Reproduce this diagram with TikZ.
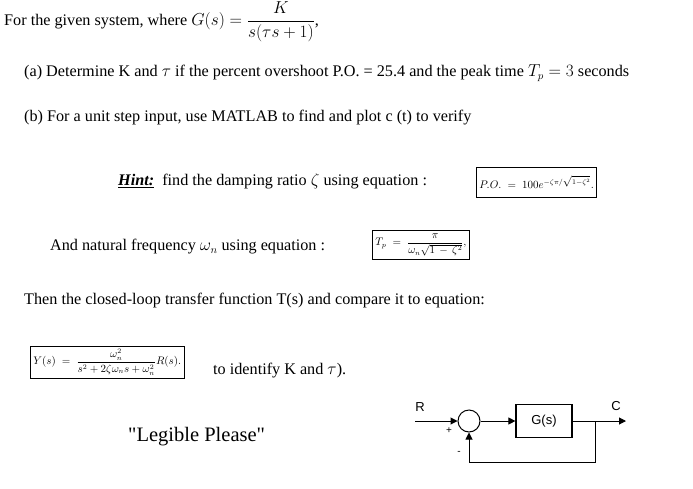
\documentclass[tikz,border=0pt]{standalone}
\usepackage{amsmath}
\usepackage{fontspec}
\setmainfont{Liberation Serif}
\newfontfamily\plainserif{Liberation Serif}
\newfontfamily\arial{Liberation Sans}
\usetikzlibrary{arrows.meta}
\begin{document}
\begin{tikzpicture}[x=1pt,y=-1pt,
 txt/.style={anchor=west,inner sep=0pt,font=\fontsize{16.2}{18}\selectfont},
 eqbox/.style={draw,thick,inner sep=3pt,font=\fontsize{10.5}{12}\selectfont},
 blk/.style={draw,line width=1.2pt,font=\arial\fontsize{13}{15}\selectfont},
 sig/.style={line width=1pt},
 arr/.style={sig,-{Triangle[length=7pt,width=7pt]}}]
\useasboundingbox (0,0) rectangle (693,488);
\node[txt] (l1) at (4,22) {For the given system, where $G(s)=\dfrac{K}{s(\tau s+1)}$,};
\node[txt] (l2) at (24,73) {(a) Determine K and $\tau$ if the percent overshoot P.O.\ = 25.4 and the peak time $T_p=3$ seconds};
\node[txt] (l3) at (24,118) {(b) For a unit step input, use MATLAB to find and plot c (t) to verify};
\node[txt] (hint) at (118,181) {\textbf{\textit{\underline{Hint:}}}\ \ find the damping ratio $\zeta$ using equation :};
\node[eqbox,anchor=west,minimum height=30pt] (e1) at (476,182) {$P.O.\;=\;100e^{-\zeta\pi/\sqrt{1-\zeta^2}}.$};
\node[txt] (nat) at (50,247) {And natural frequency $\omega_n$ using equation :};
\node[eqbox,anchor=west] (e2) at (372,245) {$T_p\;=\;\dfrac{\pi}{\omega_n\sqrt{1\,-\,\zeta^2}},$};
\node[txt] (then) at (24,301) {Then the closed-loop transfer function T(s) and compare it to equation:};
\node[eqbox,anchor=west] (e3) at (30,362) {$Y(s)\;=\;\dfrac{\omega_n^2}{s^2+2\zeta\omega_n s+\omega_n^2}R(s).$};
\node[txt] (ident) at (213,371) {to identify K and $\tau$).};
\node[txt,font=\plainserif\fontsize{20.5}{23}\selectfont] (leg) at (128,437) {"Legible Please"};
% block diagram
\coordinate (rin) at (415,421);
\node[draw,sig,circle,minimum size=22pt,inner sep=0pt] (sum) at (469,421) {};
\node[blk,minimum width=56pt,minimum height=33pt] (g) at (544,421) {G(s)};
\coordinate (br) at (595,421);
\coordinate (out) at (626,421);
\coordinate (fb1) at (595,462);
\coordinate (fb2) at (469,462);
\node[font=\arial\fontsize{13}{15}\selectfont] (R) at (420,407) {R};
\node[font=\arial\fontsize{13}{15}\selectfont] (C) at (616,406) {C};
\node[font=\arial\fontsize{10}{12}\selectfont] (plus) at (449,431) {+};
\node[font=\arial\fontsize{10}{12}\selectfont] (minus) at (459,453) {-};
\draw[arr] (rin) -- (sum);
\draw[arr] (sum) -- (g);
\draw[arr] (g) -- (out);
\draw[arr] (br) -- (fb1) -- (fb2) -- (sum);
\end{tikzpicture}
\end{document}
